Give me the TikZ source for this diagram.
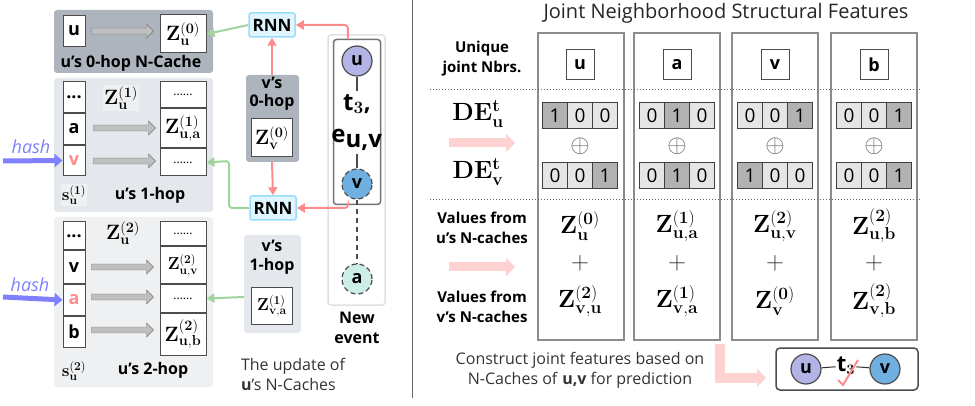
\documentclass[tikz,border=0pt]{standalone}
\usepackage[no-math]{fontspec}
\setmainfont{Open Sans}
\usetikzlibrary{positioning,shapes.arrows,arrows.meta}
\definecolor{darkbox}{HTML}{AEB4BD}
\definecolor{lightbox}{HTML}{E4E7EB}
\definecolor{palebox}{HTML}{EEF0F2}
\definecolor{redarr}{HTML}{FF8C8C}
\definecolor{greenarr}{HTML}{9FD49F}
\definecolor{hashblue}{HTML}{8080FF}
\definecolor{pinkarr}{HTML}{FFD2D2}
\definecolor{ncol}{HTML}{B3B3E6}
\definecolor{vcol}{HTML}{6FB0E0}
\definecolor{acol}{HTML}{CDEEE6}
\newcommand{\zfont}{\fontsize{22}{24}\selectfont}
\newcommand{\zsfont}{\fontsize{18}{20}\selectfont}
\tikzset{
  cell/.style={draw=black!70, fill=white, line width=1pt, minimum width=22pt, inner sep=1pt, font=\bfseries\fontsize{18}{20}\selectfont},
  zcell/.style={draw=black!70, fill=white, line width=1pt, minimum width=46pt, inner sep=0pt, font=\zfont},
  rnn/.style={draw=cyan!40, fill=cyan!12, line width=1.5pt, rounded corners=2pt, minimum width=46pt, minimum height=24pt, inner sep=1pt, font=\bfseries\fontsize{17}{19}\selectfont\rmfamily},
  garrow/.style={single arrow, draw=black!55, fill=black!25, minimum height=62pt, minimum width=14pt, single arrow head extend=3pt, inner sep=2pt},
  red edge/.style={redarr, line width=2pt, -{Triangle[length=8pt,width=9pt]}},
  green edge/.style={greenarr, line width=2pt, -{Triangle[length=8pt,width=9pt]}},
  big pink/.style={pinkarr, line width=9pt, -{Triangle[length=9pt,width=18pt]}},
  evnode/.style={circle, draw=black!70, line width=1.2pt, minimum size=30pt, inner sep=0pt, font=\bfseries\fontsize{18}{20}\selectfont},
  lbl/.style={font=\bfseries\fontsize{16}{20}\selectfont, align=center},
  rowlbl/.style={font=\bfseries\fontsize{15}{20}\selectfont, align=center},
  col/.style={draw=black!45, line width=1.5pt},
  bit/.style={draw=black!75, fill=black!10, line width=1pt, minimum width=25pt, minimum height=26pt, inner sep=0pt, font=\fontsize{19}{20}\selectfont},
  hbit/.style={bit, fill=black!30},
}
\begin{document}
\begin{tikzpicture}[x=1pt,y=-1pt]
\useasboundingbox (0,0) rectangle (975,406);

% ---- u's N-caches
\fill[darkbox, rounded corners=3pt] (54,10) rectangle (213,73);
\fill[lightbox, rounded corners=3pt] (54,78) rectangle (213,212);
\fill[palebox, rounded corners=3pt] (54,217) rectangle (213,387);

\node[cell, minimum height=31pt] (u0) at (74,31) {u};
\node[zcell, minimum height=38pt] (z0) at (183,34) {$\mathbf{Z_u^{(0)}}$};
\node[garrow] at (121,31) {};
\node[lbl] at (131,63) {u's 0-hop N-Cache};

\node[cell, minimum height=31pt] (c11) at (74,97) {...};
\node[cell, minimum height=31pt, below=0pt of c11] (c12) {a};
\node[cell, minimum height=30pt, below=0pt of c12, text=redarr] (c13) {v};
\node[zcell, minimum height=26pt, font=\large] (d11) at (183,95) {......};
\node[zcell, minimum height=39pt, below=0pt of d11] (d12) {$\mathbf{Z_{u,a}^{(1)}}$};
\node[zcell, minimum height=27pt, below=0pt of d12, font=\large] (d13) {......};
\node[garrow] at (123,128) {};
\node[garrow] at (123,161) {};
\node[fill=palebox, inner sep=1pt, font=\zfont] at (121,98) {$\mathbf{Z_u^{(1)}}$};
\node[fill=palebox, inner sep=1pt, font=\zsfont] at (74,195) {$\mathbf{s_u^{(1)}}$};
\node[lbl] at (150,195) {u's 1-hop};

\node[cell, minimum height=28pt] (c21) at (74,236) {...};
\node[cell, minimum height=33pt, below=0pt of c21] (c22) {v};
\node[cell, minimum height=30pt, below=0pt of c22, text=redarr] (c23) {a};
\node[cell, minimum height=31pt, below=0pt of c23] (c24) {b};
\node[zcell, minimum height=24pt, font=\large] (d21) at (183,234) {......};
\node[zcell, minimum height=37pt, below=0pt of d21, font=\zsfont] (d22) {$\mathbf{Z_{u,v}^{(2)}}$};
\node[zcell, minimum height=27pt, below=0pt of d22, font=\large] (d23) {......};
\node[zcell, minimum height=42pt, below=0pt of d23] (d24) {$\mathbf{Z_{u,b}^{(2)}}$};
\node[garrow] at (121,267) {};
\node[garrow] at (121,297) {};
\node[garrow] at (121,330) {};
\node[inner sep=1pt, font=\zfont] at (123,233) {$\mathbf{Z_u^{(2)}}$};
\node[inner sep=1pt, font=\zsfont] at (74,371) {$\mathbf{s_u^{(2)}}$};
\node[lbl] at (153,370) {u's 2-hop};

% ---- hash
\coordinate (h1) at (3,161);
\coordinate (h2) at (3,297);
\draw[hashblue, line width=5pt, -{Triangle[length=8pt,width=13pt]}] (h1) -- (c13.west);
\draw[hashblue, line width=5pt, -{Triangle[length=8pt,width=13pt]}] (h2) -- (c23.west);
\node[hashblue, font=\fontsize{18}{20}\selectfont\itshape\rmfamily] at (31,147) {hash};
\node[hashblue, font=\fontsize{18}{20}\selectfont\itshape\rmfamily] at (30,285) {hash};

% ---- v side
\node[rnn] (rnn1) at (272,25) {RNN};
\node[rnn] (rnn2) at (273,208) {RNN};
\fill[darkbox, rounded corners=3pt] (246,75) rectangle (299,162);
\node[lbl] at (272,83) {v's};
\node[lbl] at (272,102) {0-hop};
\node[zcell, minimum width=41pt, minimum height=38pt] (zv0) at (272,138) {$\mathbf{Z_v^{(0)}}$};
\fill[lightbox, rounded corners=3pt] (244,235) rectangle (301,333);
\node[lbl] at (272,246) {v's};
\node[lbl] at (272,266) {1-hop};
\node[zcell, minimum width=41pt, minimum height=36pt, font=\zsfont] (zv1) at (272,306) {$\mathbf{Z_{v,a}^{(1)}}$};

% ---- new event
\draw[black!12, line width=1.5pt, rounded corners=3pt] (328,35) rectangle (385,305);
\node[draw=black!55, line width=1.5pt, rounded corners=3pt, minimum width=47pt, minimum height=165pt] (ev) at (357,122) {};
\node[evnode, fill=ncol] (eu) at (357,61) {u};
\node[evnode, fill=vcol, dash pattern=on 5pt off 3pt] (ev2) at (357,184) {v};
\node[evnode, fill=acol, dash pattern=on 5pt off 3pt] (ea) at (357,279) {a};
\node[font=\bfseries\fontsize{24}{26}\selectfont] (et) at (357,104) {t$_\mathbf{3}$,};
\node[font=\bfseries\fontsize{24}{26}\selectfont] (ee) at (357,140) {e$_{\textbf{u,v}}$};
\draw[black!70, line width=1.5pt] (eu) -- (et);
\draw[black!70, line width=1.5pt] (ee) -- (ev2);
\draw[black!70, line width=1.5pt, dash pattern=on 5pt off 4pt] (ev2) -- (ea);
\node[lbl] at (357,328) {New\\event};
\node[align=left, font=\fontsize{16}{20}\selectfont, text=black!80] at (293,374) {The update of\\\textbf{u}'s N-Caches};

% ---- arrows
\draw[red edge, rounded corners=3pt] (ev.north west) ++(15,0) |- (rnn1.east);
\draw[red edge, rounded corners=3pt] (ev.south west) ++(15,0) |- (rnn2.east);
\draw[red edge] (zv0.north |- 0,75) -- (rnn1.south);
\draw[red edge] (zv0.south |- 0,162) -- (rnn2.north);
\draw[green edge] (rnn1.west) -- (z0.east);
\draw[green edge, rounded corners=3pt] (rnn2.west) -| (229,161) -- (d13.east);
\draw[green edge] (244,297) -- (d23.east);

% ---- divider
\draw[black!60, line width=1pt] (412,0) -- (412,398);

% ---- joint features
\node[font=\fontsize{20}{22}\selectfont, text=black!85] at (726,13) {Joint Neighborhood Structural Features};
\foreach \x in {538,634,732,831} \draw[col] (\x,33) rectangle ++(86,307);
\draw[black!60, dotted, line width=1pt] (430,90) -- (922,90);
\draw[black!60, dotted, line width=1pt] (430,200) -- (922,200);
\node[rowlbl] at (482,59) {Unique\\joint Nbrs.};
\node[rowlbl] at (482,228) {Values from\\u's N-caches};
\node[rowlbl] at (482,307) {Values from\\v's N-caches};
\node[font=\fontsize{24}{26}\selectfont\rmfamily] at (478,114) {$\mathbf{DE_u^t}$};
\node[font=\fontsize{24}{26}\selectfont\rmfamily] at (478,172) {$\mathbf{DE_v^t}$};
\coordinate (p1) at (449,143); \coordinate (p2) at (515,143);
\coordinate (p3) at (449,267); \coordinate (p4) at (515,267);
\draw[big pink] (p1) -- (p2);
\draw[big pink] (p3) -- (p4);

\foreach \n/\x/\l/\hu/\hv/\za/\zb in {
  cu/580/u/1/3/{Z_u^{(0)}}/{Z_{v,u}^{(2)}},
  ca/677/a/2/2/{Z_{u,a}^{(1)}}/{Z_{v,a}^{(1)}},
  cv/775/v/3/1/{Z_{u,v}^{(2)}}/{Z_v^{(0)}},
  cb/874/b/3/3/{Z_{u,b}^{(2)}}/{Z_{v,b}^{(2)}}} {
  \node[cell, minimum width=28pt, minimum height=30pt] (\n) at (\x,65) {\l};
  \foreach \k in {1,2,3} {
    \pgfmathsetmacro{\bx}{\x+(\k-2)*25}
    \pgfmathtruncatemacro{\bu}{\k==\hu ? 1 : 0}
    \pgfmathtruncatemacro{\bv}{\k==\hv ? 1 : 0}
    \ifnum\bu=1 \node[hbit] (\n u\k) at (\bx,116) {1};\else \node[bit] (\n u\k) at (\bx,116) {0};\fi
    \ifnum\bv=1 \node[hbit] (\n v\k) at (\bx,176) {1};\else \node[bit] (\n v\k) at (\bx,176) {0};\fi
  }
  \node[font=\fontsize{28}{30}\selectfont, text=black!60] at (\x,146) {$\oplus$};
  \node[font=\fontsize{24}{26}\selectfont\rmfamily] at (\x,226) {$\mathbf{\za}$};
  \node[font=\fontsize{26}{28}\selectfont, text=black!80] at (\x,263) {$+$};
  \node[font=\fontsize{24}{26}\selectfont\rmfamily] at (\x,301) {$\mathbf{\zb}$};
}

% ---- prediction
\node[align=center, font=\fontsize{16}{20}\selectfont, text=black!80] at (580,370) {Construct joint features based on\\N-Caches of \textbf{u,v} for prediction};
\coordinate (q1) at (720,344);
\coordinate (q2) at (766,378);
\draw[big pink, line width=10pt] (q1) |- (q2);
\draw[black!70, line width=1.5pt, rounded corners=4pt] (776,348) rectangle (918,390);
\node[evnode, fill=ncol] (pu) at (806,369) {u};
\node[evnode, fill=vcol] (pv) at (885,369) {v};
\node[font=\bfseries\fontsize{22}{24}\selectfont, inner sep=1pt] (pt) at (846,366) {t$_\mathbf{3}$};
\draw[black!80, line width=1pt] (pu) -- (pt) -- (pv);
\draw[redarr, line width=2pt] (838,380) -- (843,385) -- (858,360);
\end{tikzpicture}
\end{document}
